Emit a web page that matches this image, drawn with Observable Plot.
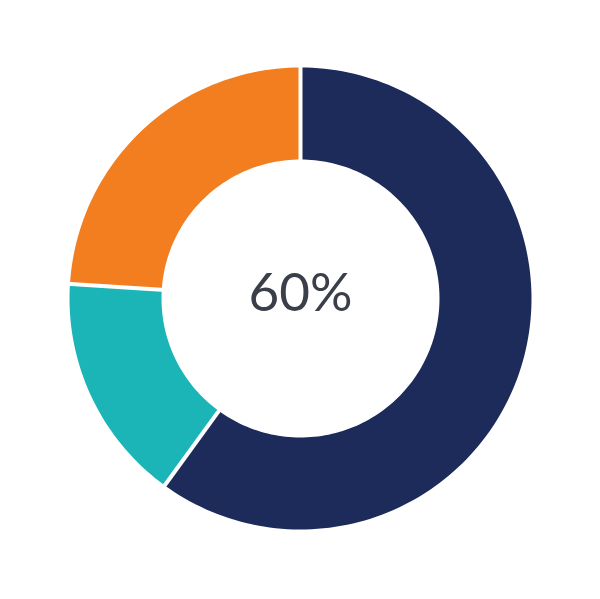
<!DOCTYPE html>
<html>
<head>
<meta charset="utf-8">
<script src="https://cdn.jsdelivr.net/npm/d3@7"></script>
<script src="https://cdn.jsdelivr.net/npm/@observablehq/plot@0.6"></script>
<style>
html, body { margin: 0; padding: 0; background: #fff; }
</style>
</head>
<body>
<div id="chart"></div>
<script>
const categories = ["Segment A", "Segment B", "Segment C"];
const values = [60, 16, 24];
const colors = ["#1c2b5a", "#1bb4b7", "#f37e20"];
const centerLabel = "60%";

const W = 600, H = 599;
const R = 231, cx = 300, cy = 298;
const inner = 139 / 231;

const pie = d3.pie().sort(null).value(d => d.value)(
  categories.map((c, i) => ({ category: c, value: values[i] }))
);

const pts = [];
const steps = 240;
for (const a of pie) {
  const c = a.data.category;
  const n = Math.max(2, Math.ceil(steps * (a.endAngle - a.startAngle) / (2 * Math.PI)));
  for (let k = 0; k <= n; k++) {
    const t = a.startAngle + (a.endAngle - a.startAngle) * k / n;
    pts.push({ category: c, x: Math.sin(t), y: Math.cos(t) });
  }
  for (let k = n; k >= 0; k--) {
    const t = a.startAngle + (a.endAngle - a.startAngle) * k / n;
    pts.push({ category: c, x: inner * Math.sin(t), y: inner * Math.cos(t) });
  }
}

const seps = pie.map(a => ({
  x1: 0.95 * inner * Math.sin(a.startAngle), y1: 0.95 * inner * Math.cos(a.startAngle),
  x2: 1.03 * Math.sin(a.startAngle), y2: 1.03 * Math.cos(a.startAngle)
}));

const chart = Plot.plot({
  width: W,
  height: H,
  margin: 0,
  x: { domain: [-cx / R, (W - cx) / R], range: [0, W], axis: null },
  y: { domain: [-(H - cy) / R, cy / R], range: [H, 0], axis: null },
  color: { domain: categories, range: colors },
  marks: [
    Plot.line(pts, {
      x: "x", y: "y", z: "category",
      fill: "category",
      stroke: null,
      curve: "linear"
    }),
    Plot.link(seps, {
      x1: "x1", y1: "y1", x2: "x2", y2: "y2",
      stroke: "white",
      strokeWidth: 4
    }),
    Plot.text([centerLabel], {
      x: () => 0, y: () => 0,
      text: d => d,
      fontSize: 53,
      fontFamily: "Lato",
      fill: "#3a3f4a",
      dy: -4
    })
  ]
});
document.getElementById("chart").appendChild(chart);
</script>
</body>
</html>
